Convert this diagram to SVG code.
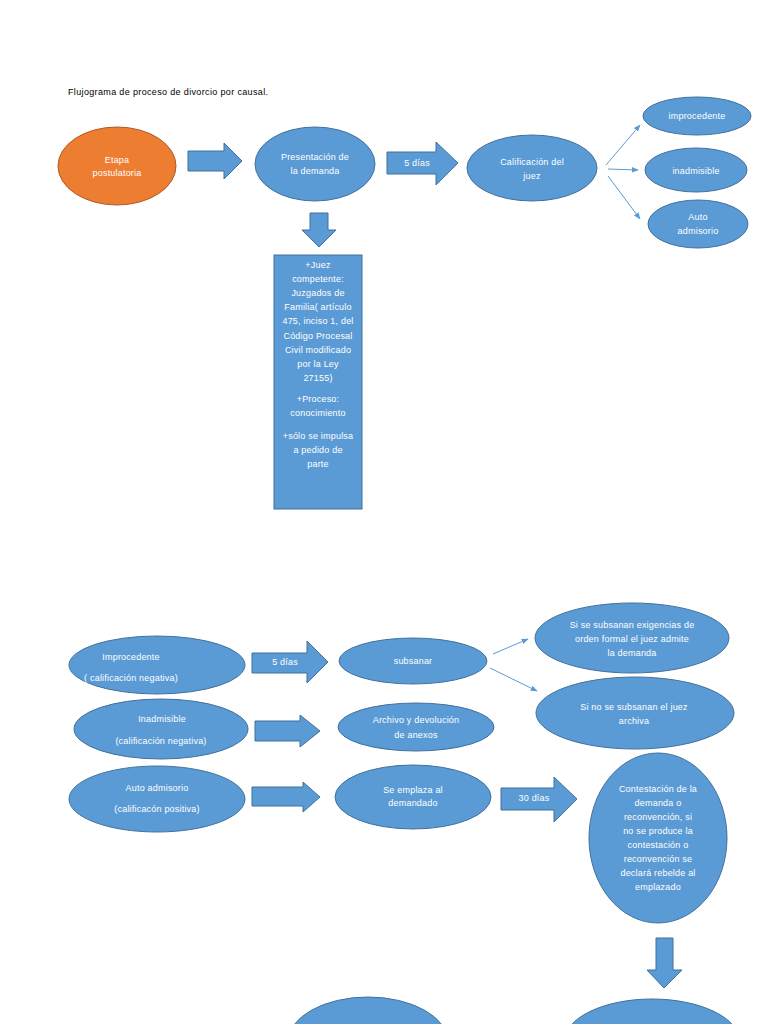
<svg xmlns="http://www.w3.org/2000/svg" width="768" height="1024" viewBox="0 0 768 1024">
<style>
.n{fill:#5B9BD5;stroke:#41719C;stroke-width:1}
.o{fill:#ED7D31;stroke:#AE5A21;stroke-width:1}
.t{font-family:"Liberation Sans",Arial,sans-serif;font-size:9px;fill:#ffffff;text-anchor:middle;letter-spacing:0.2px}
.title{font-family:"Liberation Sans",Arial,sans-serif;font-size:9px;fill:#000000;letter-spacing:0.35px}
.ln{stroke:#5B9BD5;stroke-width:1;fill:none;marker-end:url(#ah)}
</style>
<defs>
<marker id="ah" viewBox="0 0 10 10" refX="9" refY="5" markerWidth="7" markerHeight="7" orient="auto" markerUnits="userSpaceOnUse">
<path d="M0,1 L10,5 L0,9 z" fill="#5B9BD5"/>
</marker>
</defs>
<rect width="768" height="1024" fill="#ffffff"/>
<text class="title" x="68" y="95">Flujograma de proceso de divorcio por causal.</text>

<g id="connectors">
<path class="n" d="M188,151 H224 V143 L242,161 L224,179 V171 H188 Z"/>
<path class="n" d="M310,213 H328 V230 H336 L319,247 L302,230 H310 Z"/>
<path class="n" d="M387,152 H436 V142 L458,163 L436,185 V174 H387 Z"/>
<text class="t" x="417" y="166">5 días</text>
<line class="ln" x1="606" y1="165" x2="640" y2="125"/>
<line class="ln" x1="608" y1="169" x2="638" y2="170"/>
<line class="ln" x1="608" y1="176" x2="640" y2="219"/>
<path class="n" d="M252,653 H307 V641 L328,662 L307,683 V673 H252 Z"/>
<text class="t" x="285" y="665">5 días</text>
<line class="ln" x1="493" y1="654" x2="528" y2="639"/>
<line class="ln" x1="490" y1="668" x2="537" y2="691"/>
<path class="n" d="M255,721 H300 V715 L320,731 L300,747 V741 H255 Z"/>
<path class="n" d="M252,787 H303 V782 L320,797 L303,812 V806 H252 Z"/>
<path class="n" d="M501,788 H554 V777 L577,799 L554,822 V810 H501 Z"/>
<text class="t" x="534" y="801">30 días</text>
<path class="n" d="M656,938 H673 V970 H682 L664,988 L647,970 H656 Z"/>
</g>

<g id="etapa">
<ellipse class="o" cx="117" cy="166" rx="59" ry="39"/>
<text class="t" x="117" y="163">Etapa</text>
<text class="t" x="117" y="176">postulatoria</text>
</g>
<g id="presentacion">
<ellipse class="n" cx="315" cy="164" rx="60" ry="37"/>
<text class="t" x="315" y="160">Presentación de</text>
<text class="t" x="315" y="174">la demanda</text>
</g>
<g id="requisitos">
<rect class="n" x="274" y="255" width="88" height="254"/>
<text class="t" x="318" y="268">+Juez</text>
<text class="t" x="318" y="282">competente:</text>
<text class="t" x="318" y="296">Juzgados de</text>
<text class="t" x="318" y="310">Familia( artículo</text>
<text class="t" x="318" y="324">475, inciso 1, del</text>
<text class="t" x="318" y="339">Código Procesal</text>
<text class="t" x="318" y="353">Civil modificado</text>
<text class="t" x="318" y="367">por la Ley</text>
<text class="t" x="318" y="381">27155)</text>
<text class="t" x="318" y="402">+Proceso:</text>
<text class="t" x="318" y="416">conocimiento</text>
<text class="t" x="318" y="439">+sólo se impulsa</text>
<text class="t" x="318" y="453">a pedido de</text>
<text class="t" x="318" y="467">parte</text>
</g>
<g id="calificacion">
<ellipse class="n" cx="532" cy="168" rx="65" ry="33"/>
<text class="t" x="532" y="165">Calificación del</text>
<text class="t" x="532" y="179">juez</text>
</g>
<g id="improcedente-top">
<ellipse class="n" cx="697" cy="116" rx="54" ry="19"/>
<text class="t" x="697" y="119">improcedente</text>
</g>
<g id="inadmisible-top">
<ellipse class="n" cx="696" cy="170" rx="51" ry="22"/>
<text class="t" x="696" y="174">inadmisible</text>
</g>
<g id="auto-top">
<ellipse class="n" cx="698" cy="224" rx="50" ry="24"/>
<text class="t" x="698" y="220">Auto</text>
<text class="t" x="698" y="234">admisorio</text>
</g>

<g id="improcedente">
<ellipse class="n" cx="157" cy="665" rx="88" ry="29"/>
<text class="t" x="131" y="660">Improcedente</text>
<text class="t" x="131" y="681">( calificación negativa)</text>
</g>
<g id="subsanar">
<ellipse class="n" cx="413" cy="661" rx="74" ry="23"/>
<text class="t" x="413" y="664">subsanar</text>
</g>
<g id="si-subsanan">
<ellipse class="n" cx="632" cy="638" rx="97" ry="35"/>
<text class="t" x="632" y="628">Si se subsanan exigencias de</text>
<text class="t" x="632" y="642">orden formal el juez admite</text>
<text class="t" x="632" y="656">la demanda</text>
</g>
<g id="no-subsanan">
<ellipse class="n" cx="635" cy="713" rx="99" ry="36"/>
<text class="t" x="634" y="710">Si no se subsanan el juez</text>
<text class="t" x="634" y="724">archiva</text>
</g>
<g id="inadmisible">
<ellipse class="n" cx="161" cy="729" rx="87" ry="30"/>
<text class="t" x="162" y="722">Inadmisible</text>
<text class="t" x="161" y="744">(calificación negativa)</text>
</g>
<g id="archivo">
<ellipse class="n" cx="416" cy="727" rx="78" ry="24"/>
<text class="t" x="416" y="723">Archivo y devolución</text>
<text class="t" x="416" y="738">de anexos</text>
</g>
<g id="auto">
<ellipse class="n" cx="157" cy="799" rx="88" ry="33"/>
<text class="t" x="157" y="791">Auto admisorio</text>
<text class="t" x="157" y="812">(calificacón positiva)</text>
</g>
<g id="emplaza">
<ellipse class="n" cx="413" cy="797" rx="78" ry="32"/>
<text class="t" x="413" y="793">Se emplaza al</text>
<text class="t" x="413" y="806">demandado</text>
</g>
<g id="contestacion">
<ellipse class="n" cx="658" cy="838" rx="69" ry="85"/>
<text class="t" x="658" y="792">Contestación de la</text>
<text class="t" x="658" y="806">demanda o</text>
<text class="t" x="658" y="820">reconvención, si</text>
<text class="t" x="658" y="834">no se produce la</text>
<text class="t" x="658" y="848">contestación o</text>
<text class="t" x="658" y="862">reconvención se</text>
<text class="t" x="658" y="876">declará rebelde al</text>
<text class="t" x="658" y="890">emplazado</text>
</g>
<g id="bottom-left">
<ellipse class="n" cx="368" cy="1042" rx="80" ry="45"/>
</g>
<g id="bottom-right">
<ellipse class="n" cx="652" cy="1042" rx="88" ry="43"/>
</g>
</svg>
